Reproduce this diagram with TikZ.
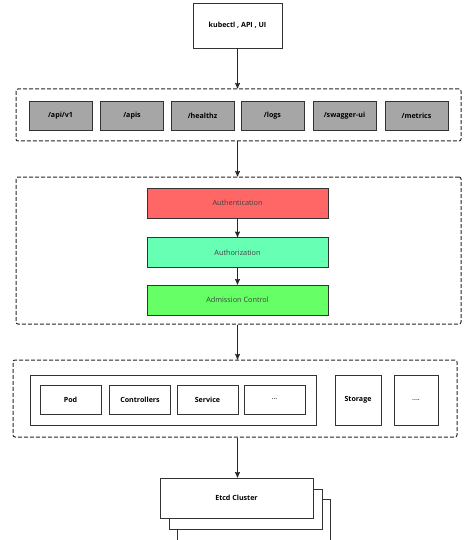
\documentclass[tikz,border=0pt]{standalone}
\usepackage{fontspec}
\setmainfont{Open Sans}
\usepackage{tikz}
\usetikzlibrary{arrows}

\definecolor{authred}{HTML}{FF6666}
\definecolor{authzgreen}{HTML}{66FFB3}
\definecolor{admgreen}{HTML}{66FF66}

\begin{document}
\begin{tikzpicture}[x=1pt,y=-1pt,>=stealth',thick,
  every node/.style={font=\fontsize{7.3}{8}\selectfont},
  box node/.style={rectangle,draw=black!80,line width=0.9pt,fill=white,inner sep=0pt},
  bold node/.style={font=\fontsize{7.1}{8}\selectfont\bfseries},
  api node/.style={box node,bold node,fill=black!35,minimum width=63pt,minimum height=29pt},
  res node/.style={box node,bold node,minimum width=61pt,minimum height=29pt},
  chain node/.style={box node,minimum width=181pt,minimum height=30pt,text=black!75},
  group node/.style={rectangle,draw=black!85,line width=1pt,dash pattern=on 4pt off 2pt,rounded corners=2pt,inner sep=0pt},
  edge style/.style={->,draw=black!85,line width=1pt}]

  \useasboundingbox (0,0) rectangle (474,540);

  % client
  \node[box node,bold node,minimum width=89pt,minimum height=45pt] (client) at (237.5,25.5) {kubectl , API , UI};

  % api paths
  \node[group node,minimum width=445pt,minimum height=52pt] (apis) at (238.5,115) {};
  \node[api node] (v1) at (60.5,115.5) {/api/v1};
  \node[api node] (groups) at (132,115.5) {/apis};
  \node[api node] (healthz) at (202.5,115.5) {/healthz};
  \node[api node] (logs) at (272.5,115.5) {/logs};
  \node[api node] (swagger) at (344.5,115.5) {/swagger-ui};
  \node[api node] (metrics) at (416.5,115.5) {/metrics};

  % access control
  \node[group node,minimum width=445pt,minimum height=147pt] (access) at (238.5,250.5) {};
  \node[chain node,fill=authred] (authn) at (237.5,203) {Authentication};
  \node[chain node,fill=authzgreen] (authz) at (237.5,252.5) {Authorization};
  \node[chain node,fill=admgreen] (admit) at (237.5,300) {Admission Control};

  % resources
  \node[group node,minimum width=444pt,minimum height=77pt] (objects) at (235,398.5) {};
  \node[box node,minimum width=286pt,minimum height=50pt] (kinds) at (173,400) {};
  \node[res node] (pod) at (70.5,399.5) {Pod};
  \node[res node] (ctrl) at (140,399.5) {Controllers};
  \node[res node] (svc) at (207.5,399.5) {Service};
  \node[res node,font=\fontsize{7.1}{8}\selectfont] (more) at (274.5,399.5) {...};
  \node[box node,bold node,minimum width=46pt,minimum height=50pt] (storage) at (358,400) {Storage};
  \node[box node,minimum width=44pt,minimum height=50pt] (others) at (416,400) {....};

  % etcd
  \node[box node,minimum width=153pt,minimum height=46pt] (etcd3) at (254,522.5) {};
  \node[box node,minimum width=153pt,minimum height=40pt] (etcd2) at (246,509) {};
  \node[box node,bold node,minimum width=153pt,minimum height=40pt] (etcd) at (236.5,498) {Etcd Cluster};

  \draw[edge style] (client) -- (client |- apis.north);
  \draw[edge style] (client |- apis.south) -- (client |- access.north);
  \draw[edge style] (authn) -- (authz);
  \draw[edge style] (authz) -- (admit);
  \draw[edge style] (client |- access.south) -- (client |- objects.north);
  \draw[edge style] (client |- objects.south) -- (etcd.north -| client);
\end{tikzpicture}
\end{document}
